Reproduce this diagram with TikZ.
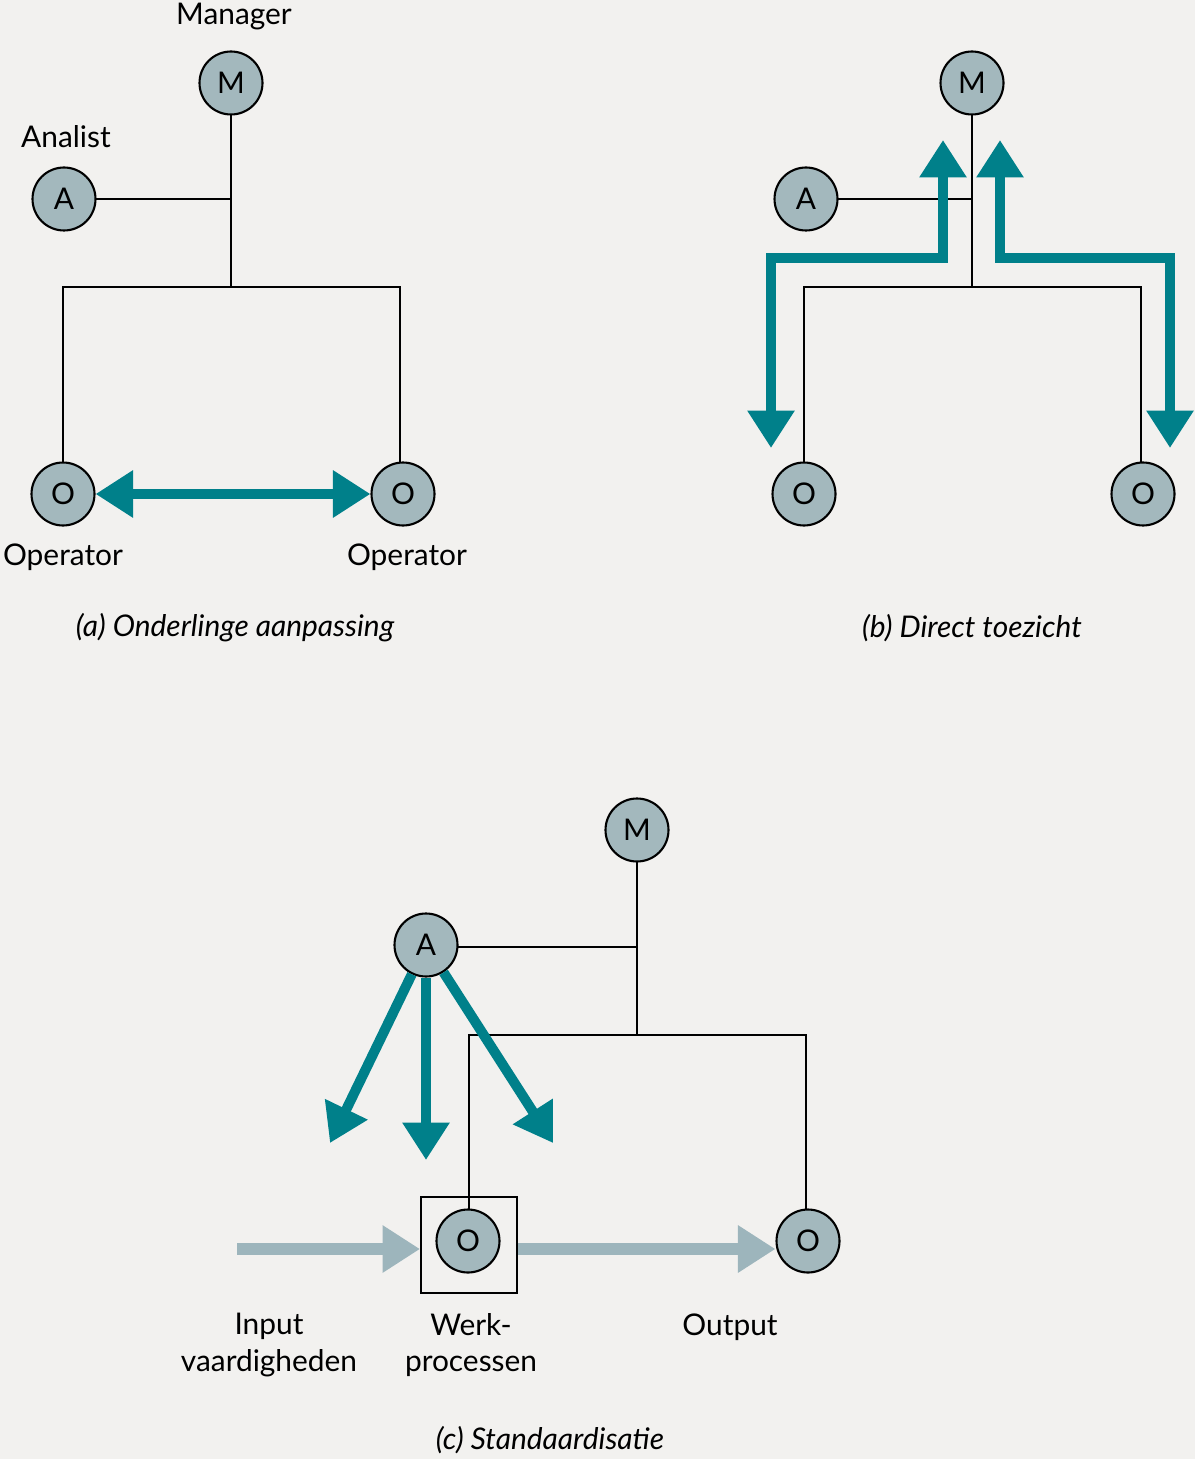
\documentclass[tikz,border=0pt]{standalone}
\usepackage{fontspec}
\setmainfont{Lato}
\usetikzlibrary{arrows.meta}
\definecolor{bg}{HTML}{F2F1EF}
\definecolor{nodefill}{HTML}{A3B8BD}
\definecolor{teal}{HTML}{00808A}
\definecolor{lgt}{HTML}{9DB5BC}
\begin{document}
\begin{tikzpicture}[x=0.02cm,y=-0.02cm,
  c/.style={circle,draw=black,line width=1.2pt,fill=nodefill,minimum size=1.26cm,inner sep=0pt,font=\fontsize{17}{20}\selectfont},
  lbl/.style={font=\fontsize{17}{21}\selectfont,align=center},
  captxt/.style={font=\fontsize{17}{21}\selectfont\itshape},
  ln/.style={line width=1.1pt},
  big/.style={line width=0.2cm,teal,-{Triangle[length=0.75cm,width=0.9cm]}},
  lg/.style={line width=0.24cm,lgt,-{Triangle[length=0.75cm,width=0.9cm]}}]
\fill[bg] (0,0) rectangle (1195,1459);
\useasboundingbox (0,0) rectangle (1195,1459);
% (a)
\coordinate (ja) at (231,199); \coordinate (ha) at (231,287);
\coordinate (hal) at (63,287); \coordinate (har) at (400,287);
\draw[ln] (231,83) -- (ha);
\draw[ln] (64,199) -- (ja);
\draw[ln] (63,494) -- (hal) -- (har) -- (400,494);
\node[c] (am) at (231,83) {M};
\node[c] (aa) at (64,199) {A};
\node[c] (ao1) at (63,494) {O};
\node[c] (ao2) at (403,494) {O};
\draw[big,{Triangle[length=0.75cm,width=0.9cm]}-{Triangle[length=0.75cm,width=0.9cm]}] (ao1) -- (ao2);
\node[lbl] at (234,17) {Manager};
\node[lbl] at (66,137) {Analist};
\node[lbl] at (63,557) {Operator};
\node[lbl] at (407,557) {Operator};
\node[captxt] at (235,628) {(a) Onderlinge aanpassing};
% (b)
\draw[ln] (972,83) -- (972,287);
\draw[ln] (806,199) -- (972,199);
\draw[ln] (804,494) -- (804,287) -- (1141,287) -- (1141,494);
\node[c] (bm) at (972,83) {M};
\node[c] (ba) at (806,199) {A};
\node[c] (bo1) at (804,494) {O};
\node[c] (bo2) at (1143,494) {O};
\coordinate (l1) at (943,140); \coordinate (l2) at (943,258); \coordinate (l3) at (771,258); \coordinate (l4) at (771,448);
\coordinate (r1) at (1000,140); \coordinate (r2) at (1000,258); \coordinate (r3) at (1170,258); \coordinate (r4) at (1170,448);
\draw[big,{Triangle[length=0.75cm,width=0.9cm]}-{Triangle[length=0.75cm,width=0.9cm]},line join=miter] (l1) -- (l2) -- (l3) -- (l4);
\draw[big,{Triangle[length=0.75cm,width=0.9cm]}-{Triangle[length=0.75cm,width=0.9cm]},line join=miter] (r1) -- (r2) -- (r3) -- (r4);
\node[captxt] at (972,628) {(b) Direct toezicht};
% (c)
\draw[ln] (637,830) -- (637,1035);
\draw[ln] (426,947) -- (637,947);
\draw[ln] (469,1241) -- (469,1035) -- (806,1035) -- (806,1241);
\node[draw=black,line width=1.1pt,minimum size=1.92cm] (box) at (469,1245) {};
\node[c] (cm) at (637,830) {M};
\node[c] (ca) at (426,945) {A};
\node[c] (co1) at (468,1241) {O};
\node[c] (co2) at (808,1241) {O};
\coordinate (t1) at (330,1143); \coordinate (t2) at (426,1160); \coordinate (t3) at (553,1143);
\draw[big] (ca) -- (t1);
\draw[big] (ca) -- (t2);
\draw[big] (ca) -- (t3);
\coordinate (in) at (237,1249);
\draw[lg] (in) -- (box.west|-in);
\draw[lg] (box.east|-in) -- (co2.west|-in);
\node[lbl] at (269,1345) {Input\\vaardigheden};
\node[lbl] at (471,1345) {Werk-\\processen};
\node[lbl] at (730,1327) {Output};
\node[captxt] at (550,1440) {(c) Standaardisatie};
\end{tikzpicture}
\end{document}
